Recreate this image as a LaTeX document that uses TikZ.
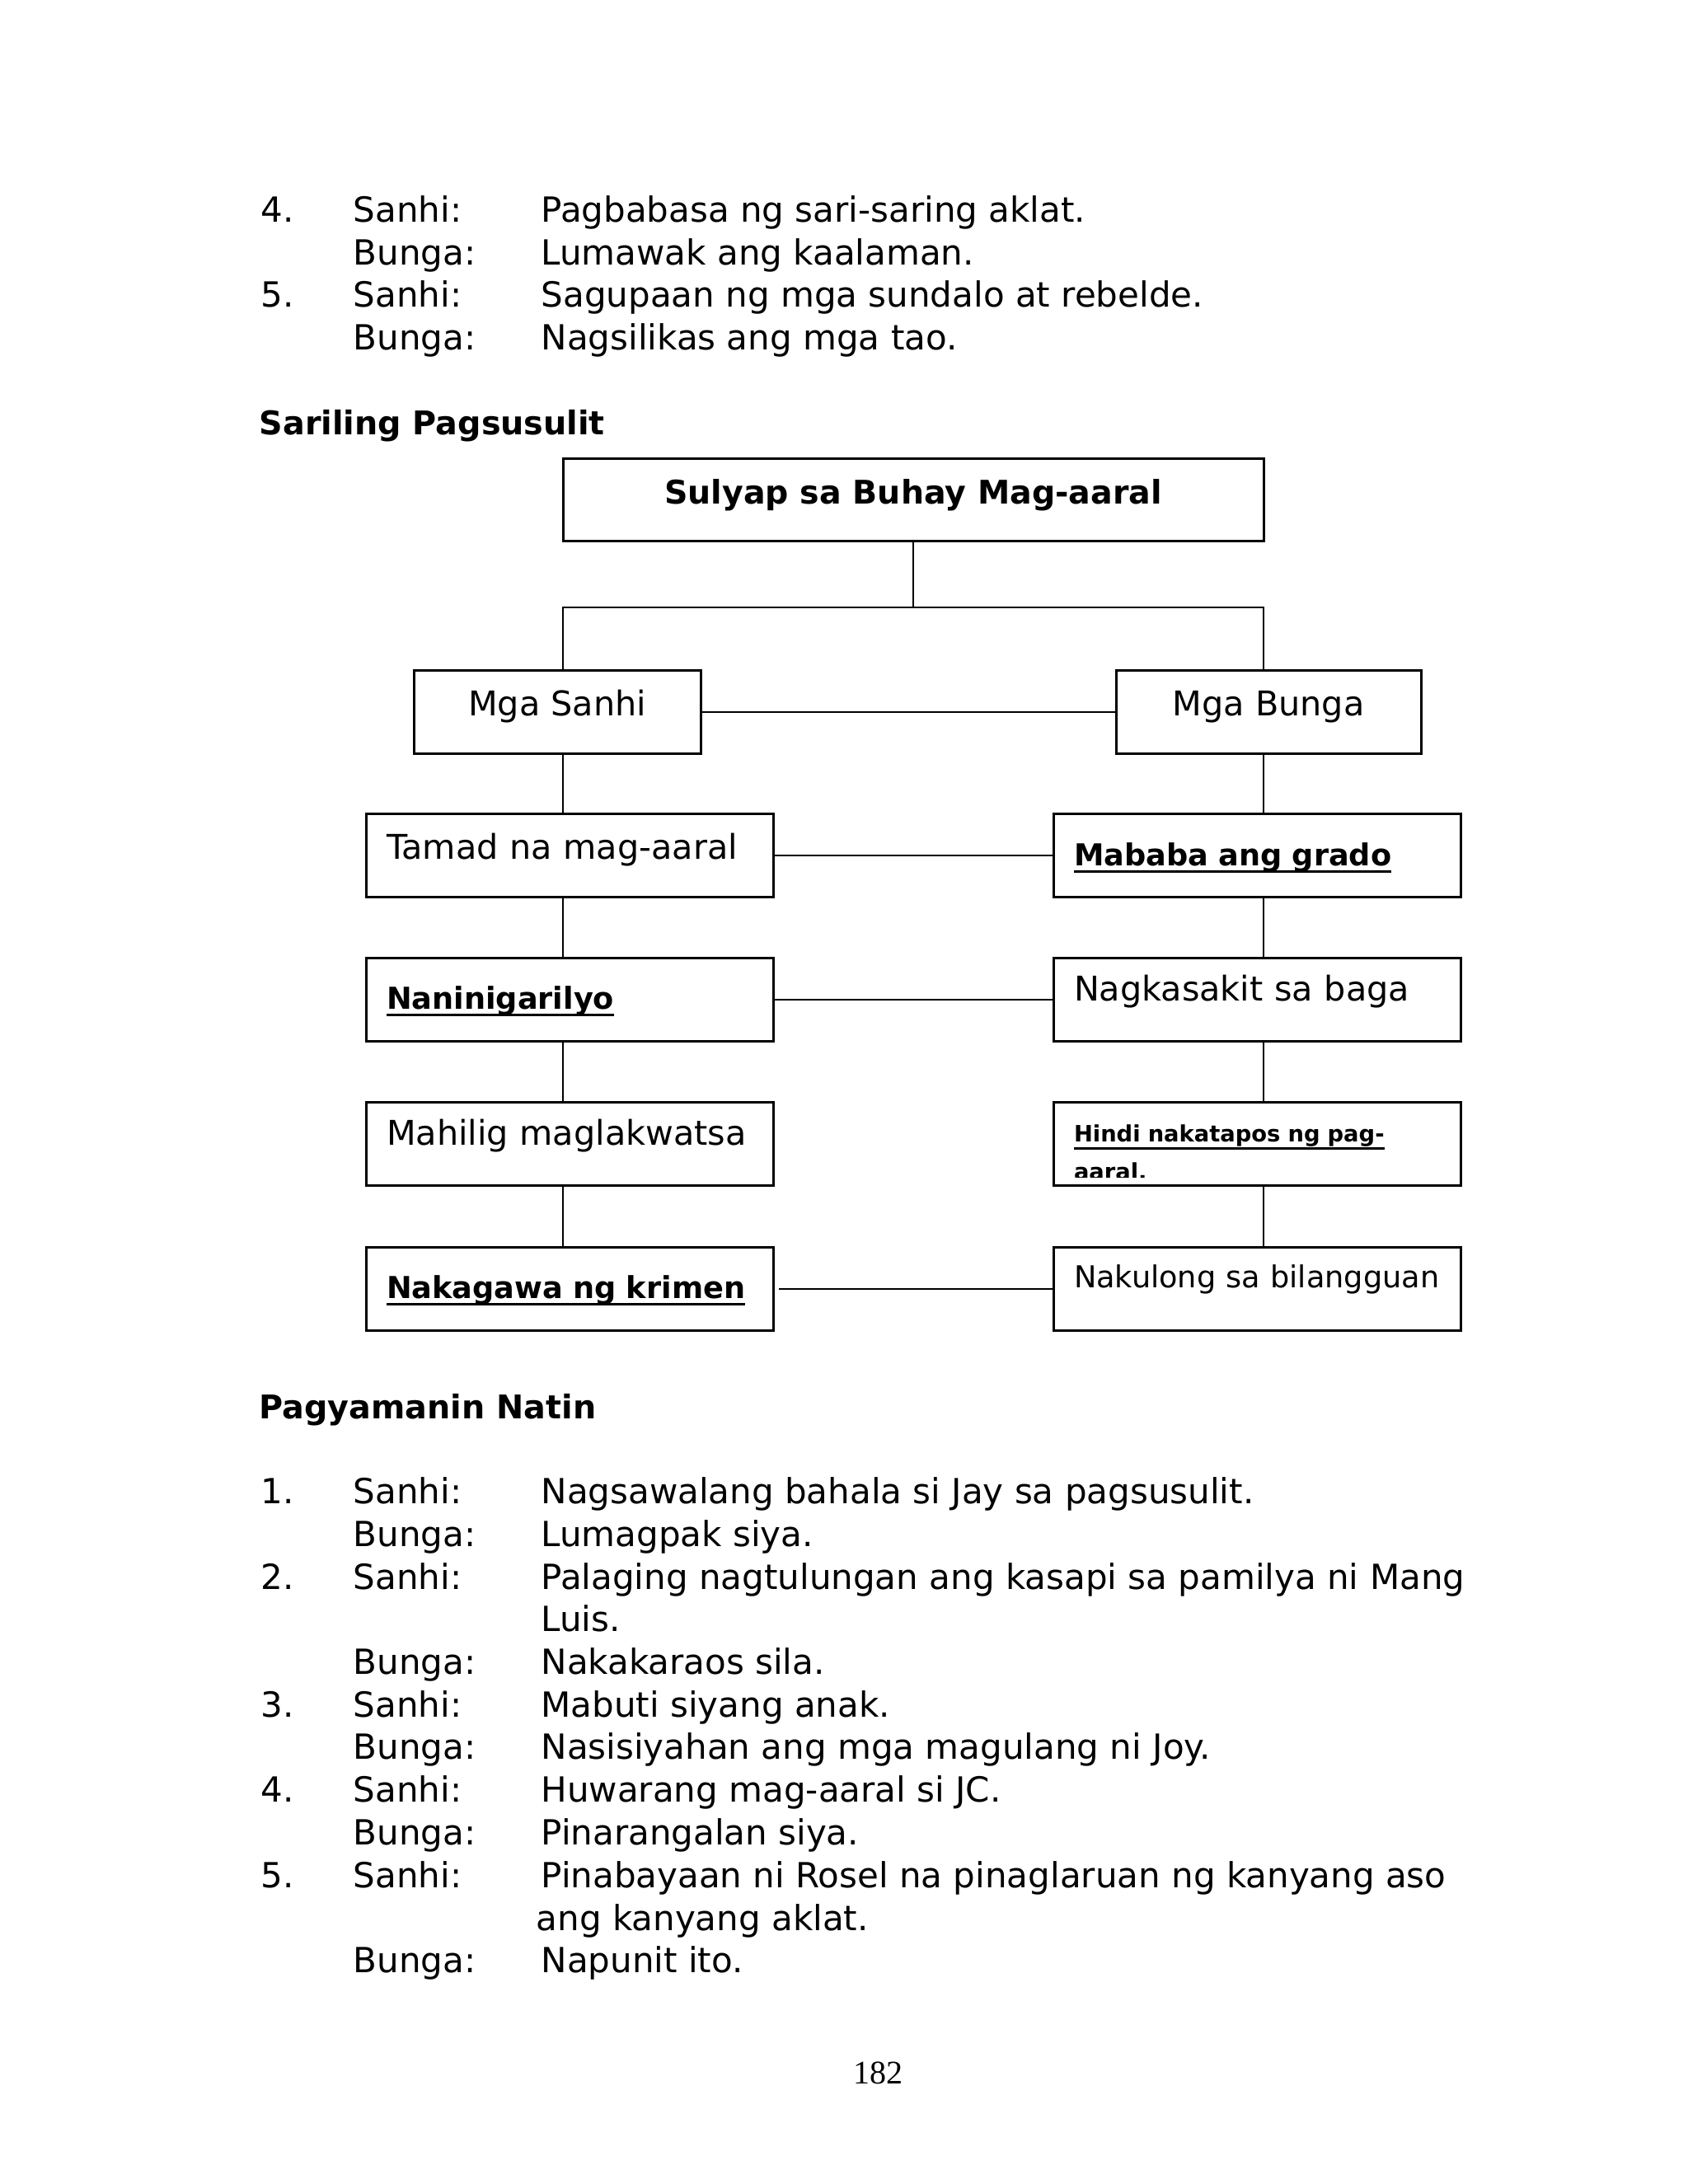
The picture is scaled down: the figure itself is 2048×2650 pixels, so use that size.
\documentclass[tikz,border=0pt]{standalone}
\usepackage{fontspec}
\setmainfont{DejaVu Sans}
\newfontfamily\pagenumfont{Liberation Serif}
\usetikzlibrary{positioning}
\newsavebox\ulsave
\newcommand{\ulthick}[1]{\sbox\ulsave{#1}\rlap{\rule[-2.7pt]{\wd\ulsave}{0.9pt}}\usebox\ulsave}

\begin{document}
\begin{tikzpicture}[
  x=0.3pt, y=-0.3pt,
  txt/.style={anchor=base west, inner sep=0pt, font=\fontsize{12.6}{15}\selectfont},
  heading/.style={txt, font=\fontsize{11.9}{15}\selectfont\bfseries},
  boxbase/.style={draw, line width=0.9pt, inner ysep=0pt},
  title/.style={boxbase, minimum width=255pt, text height=16.5pt, text depth=13.5pt,
                font=\fontsize{11.85}{14}\selectfont\bfseries},
  grp/.style={boxbase, text height=16.5pt, text depth=13.8pt, font=\fontsize{12.4}{15}\selectfont},
  cell/.style={boxbase, text width=133.2pt, inner xsep=7.5pt, align=left,
               text height=15.6pt, text depth=14.7pt, font=\fontsize{12.4}{15}\selectfont},
  cellb/.style={cell, text height=18.6pt, text depth=11.7pt, font=\fontsize{11}{13}\selectfont\bfseries},
  link/.style={line width=0.6pt},
  node distance=21.4pt
]
\fill[white] (0,0) rectangle (2048,2650);
\useasboundingbox (0,0) rectangle (2048,2650);

% items 4 and 5
\node[txt] (tn4) at (316,269) {4.};
\node[txt] (tl4s) at (428,269) {Sanhi:};
\node[txt] (tt4s) at (656,269) {Pagbabasa ng sari-saring aklat.};
\node[txt] (tl4b) at (428,321) {Bunga:};
\node[txt] (tt4b) at (656,321) {Lumawak ang kaalaman.};
\node[txt] (tn5) at (316,372) {5.};
\node[txt] (tl5s) at (428,372) {Sanhi:};
\node[txt] (tt5s) at (656,372) {Sagupaan ng mga sundalo at rebelde.};
\node[txt] (tl5b) at (428,424) {Bunga:};
\node[txt] (tt5b) at (656,424) {Nagsilikas ang mga tao.};

\node[heading] (sariling) at (314,527) {Sariling Pagsusulit};

% diagram
\node[title] (sulyap) at (1108,606) {Sulyap sa Buhay Mag-aaral};
\node[grp, minimum width=104.4pt] (sanhi) at (676,863.5) {Mga Sanhi};
\node[grp, minimum width=111pt] (bunga) at (1539,863.5) {Mga Bunga};

\node[cell, text height=16.5pt, text depth=13.8pt] (l1) at (691,1037.5) {Tamad na mag-aaral};
\node[cellb, below=of l1] (l2) {\ulthick{Naninigarilyo}};
\node[cell, below=of l2] (l3) {Mahilig maglakwatsa};
\node[cellb, below=of l3] (l4) {\ulthick{Nakagawa ng krimen}};

\node[cellb, text height=18.9pt, text depth=11.4pt] (r1) at (1525,1037.5) {\ulthick{Mababa ang grado}};
\node[cell, below=of r1] (r2) {Nagkasakit sa baga};
\node[cell, below=of r2, text height=14.4pt, text depth=15.9pt,
      font=\fontsize{8.2}{13.8}\selectfont\bfseries] (r3) {\ulthick{Hindi nakatapos ng pag-}\\aaral.};
\node[cell, below=of r3, text height=14.7pt, text depth=15.6pt,
      font=\fontsize{11}{13}\selectfont] (r4) {Nakulong sa bilangguan};
\fill[white] ([xshift=2pt,yshift=3.45pt]r3.south west) rectangle ([xshift=-2pt,yshift=1.1pt]r3.south east);

\coordinate (jl) at (683,737);
\coordinate (jr) at (1533,737);
\draw[link] (sulyap.south) -- (sulyap.south |- jl);
\draw[link] (sanhi.north -| jl) -- (jl) -- (jr) -- (bunga.north -| jr);
\draw[link] (sanhi.east) -- (bunga.west);
\draw[link] (sanhi.south -| jl) -- (l1.north -| jl);
\draw[link] (l1.south -| jl) -- (l2.north -| jl);
\draw[link] (l2.south -| jl) -- (l3.north -| jl);
\draw[link] (l3.south -| jl) -- (l4.north -| jl);
\draw[link] (bunga.south -| jr) -- (r1.north -| jr);
\draw[link] (r1.south -| jr) -- (r2.north -| jr);
\draw[link] (r2.south -| jr) -- (r3.north -| jr);
\draw[link] (r3.south -| jr) -- (r4.north -| jr);
\draw[link] (l1.east) -- (r1.west);
\draw[link] (l2.east) -- (r2.west);
\draw[link] ([xshift=1.5pt]l4.east) -- (r4.west);

\node[heading] (pagyamanin) at (314,1721) {Pagyamanin Natin};

% items 1 to 5
\node[txt] (bn1) at (316,1824) {1.};
\node[txt] (bl1s) at (428,1824) {Sanhi:};
\node[txt] (bt1s) at (656,1824) {Nagsawalang bahala si Jay sa pagsusulit.};
\node[txt] (bl1b) at (428,1876) {Bunga:};
\node[txt] (bt1b) at (656,1876) {Lumagpak siya.};
\node[txt] (bn2) at (316,1928) {2.};
\node[txt] (bl2s) at (428,1928) {Sanhi:};
\node[txt] (bt2s) at (656,1928) {Palaging nagtulungan ang kasapi sa pamilya ni Mang};
\node[txt] (bt2s2) at (656,1979) {Luis.};
\node[txt] (bl2b) at (428,2031) {Bunga:};
\node[txt] (bt2b) at (656,2031) {Nakakaraos sila.};
\node[txt] (bn3) at (316,2083) {3.};
\node[txt] (bl3s) at (428,2083) {Sanhi:};
\node[txt] (bt3s) at (656,2083) {Mabuti siyang anak.};
\node[txt] (bl3b) at (428,2134) {Bunga:};
\node[txt] (bt3b) at (656,2134) {Nasisiyahan ang mga magulang ni Joy.};
\node[txt] (bn4) at (316,2186) {4.};
\node[txt] (bl4s) at (428,2186) {Sanhi:};
\node[txt] (bt4s) at (656,2186) {Huwarang mag-aaral si JC.};
\node[txt] (bl4b) at (428,2238) {Bunga:};
\node[txt] (bt4b) at (656,2238) {Pinarangalan siya.};
\node[txt] (bn5) at (316,2290) {5.};
\node[txt] (bl5s) at (428,2290) {Sanhi:};
\node[txt] (bt5s) at (656,2290) {Pinabayaan ni Rosel na pinaglaruan ng kanyang aso};
\node[txt] (bt5s2) at (650,2342) {ang kanyang aklat.};
\node[txt] (bl5b) at (428,2393) {Bunga:};
\node[txt] (bt5b) at (656,2393) {Napunit ito.};

\node[anchor=base, inner sep=0pt, font=\pagenumfont\fontsize{12}{14}\selectfont] (pagenum) at (1065,2528) {182};
\end{tikzpicture}
\end{document}
